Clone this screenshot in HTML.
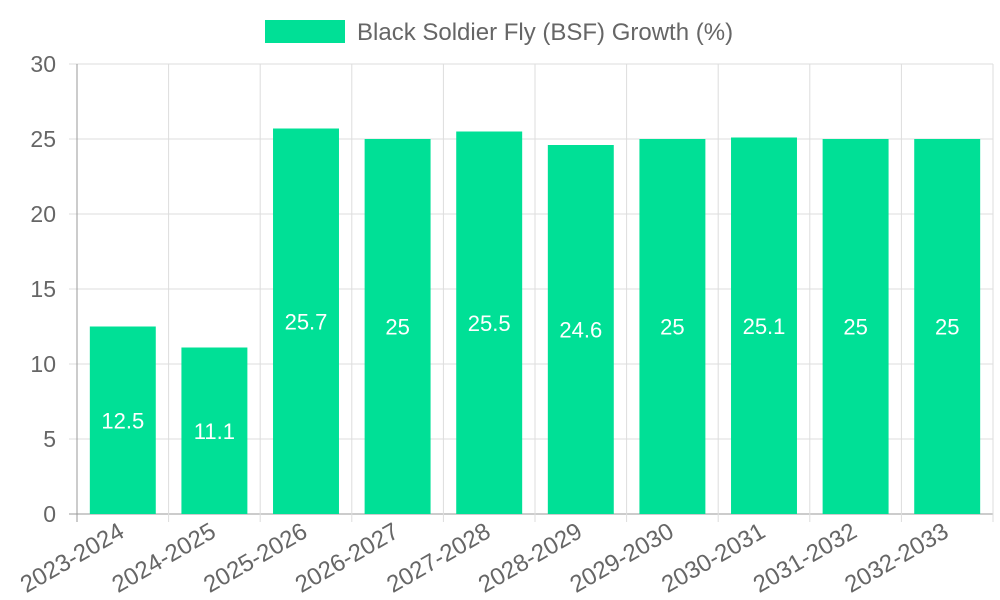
<!DOCTYPE html>
<html><head><meta charset="utf-8"><style>
body{margin:0;background:#fff;}
svg{display:block;font-family:"Liberation Sans",sans-serif;}
</style></head><body>
<svg id="chart" width="1000" height="600">
<g>
<rect x="265" y="20" width="80" height="23" fill="#00e096"/>
<text x="357" y="40" font-size="24" fill="#666">Black Soldier Fly (BSF) Growth (%)</text>
</g>
<g id="grid"></g><g id="bars"></g><g id="axes"></g>
</svg>
<script>
const categories=["2023-2024","2024-2025","2025-2026","2026-2027","2027-2028","2028-2029","2029-2030","2030-2031","2031-2032","2032-2033"];
const values=[12.5,11.1,25.7,25,25.5,24.6,25,25.1,25,25];
const yTicks=[0,5,10,15,20,25,30];
const L=77,R=993,T=64,B=514,yMax=30;
const ns="http://www.w3.org/2000/svg";
const step=(R-L)/categories.length;
const y=v=>B-(v/yMax)*(B-T);
const x=i=>L+step*i;
function mk(tag,attrs,parent,txt){const e=document.createElementNS(ns,tag);for(const k in attrs)e.setAttribute(k,attrs[k]);if(txt!==undefined)e.textContent=txt;document.getElementById(parent).appendChild(e);return e;}
yTicks.forEach(t=>{
 const g=mk('line',{x1:L-8,x2:R,y1:y(t),y2:y(t),stroke:t===0?'#999':'#ddd','stroke-width':1},'grid');
 
 
 const tl=mk('text',{x:L-21,y:y(t)+8,'text-anchor':'end','font-size':23,fill:'#666'},'axes',String(t));
 
 
});
for(let i=0;i<=categories.length;i++){
 const g=mk('line',{x1:x(i),x2:x(i),y1:T,y2:B+8,stroke:i===0?'#999':'#ddd','stroke-width':1},'grid');
 
 
}
categories.forEach((c,i)=>{
 const bw=step*0.72,cx=x(i)+step/2;
 const r=mk('rect',{x:cx-bw/2,y:y(values[i]),width:bw,height:B-y(values[i]),fill:'#00e096'},'bars');
 
 
 const v=mk('text',{x:cx,y:(y(values[i])+B)/2+8,'text-anchor':'middle','font-size':22,fill:'#fff'},'bars',String(values[i]));
 
 
 const tl=mk('text',{x:0,y:0,'text-anchor':'end','font-size':24,fill:'#666',transform:`translate(${cx+3},${B+22}) rotate(-30)`},'axes',c);
 
 
});
</script>
</body></html>
